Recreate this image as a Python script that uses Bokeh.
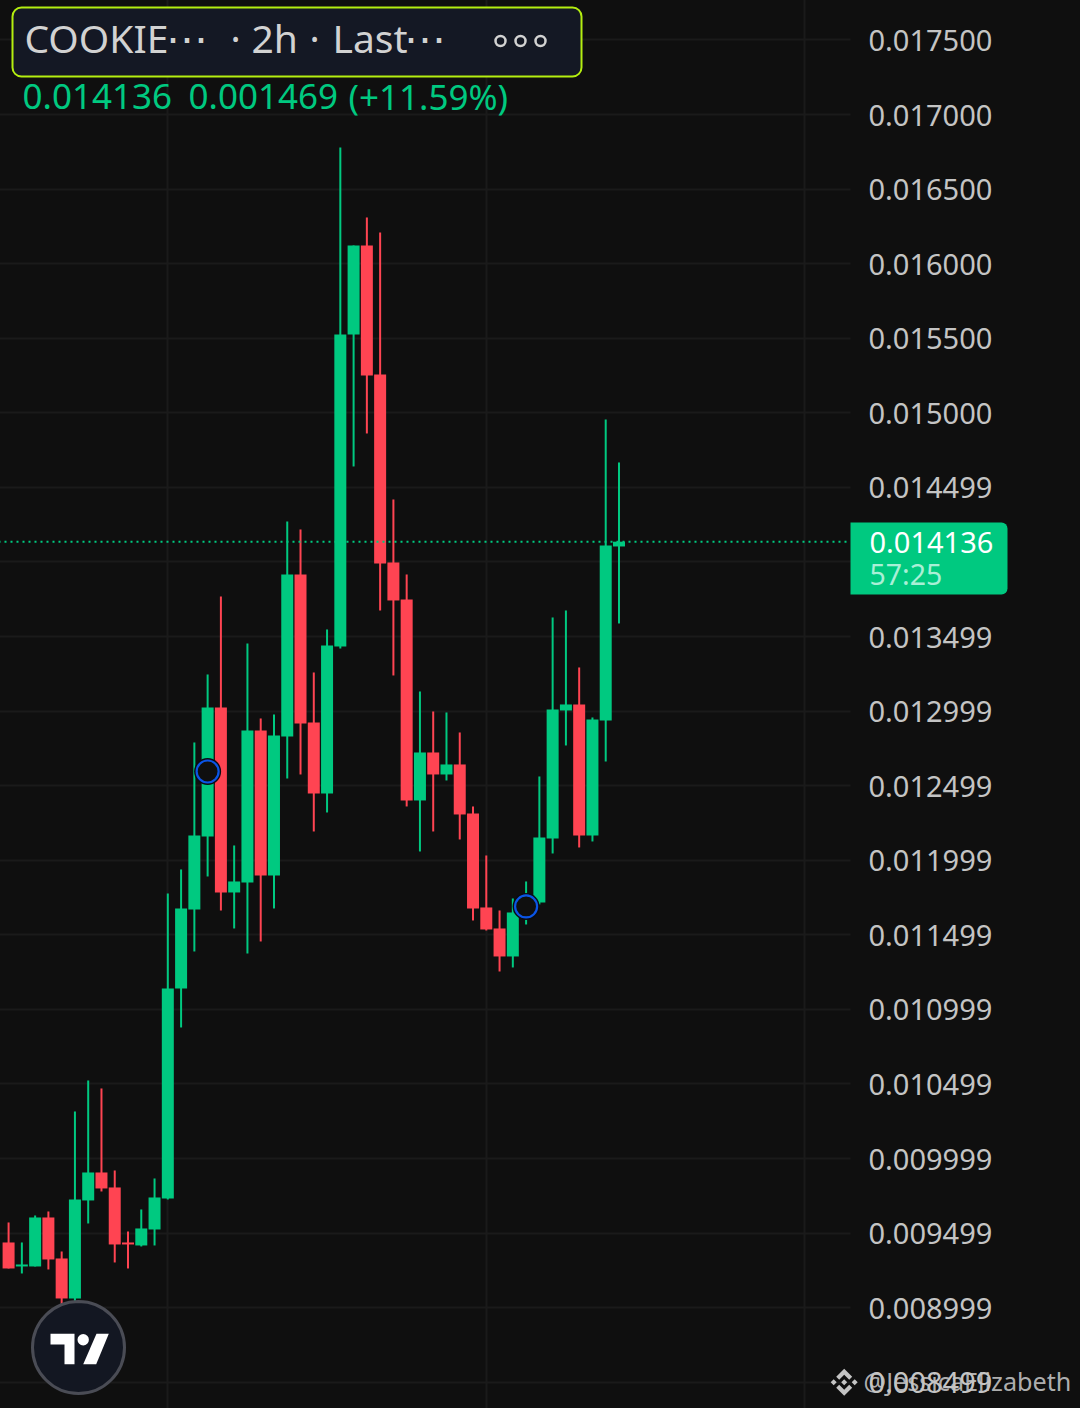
from bokeh.core.properties import value
from bokeh.embed import file_html
from bokeh.models import BoxAnnotation, FixedTicker, Label, PolyAnnotation, Range1d
from bokeh.plotting import figure
from bokeh.resources import INLINE

# ---- data (prices) ----
opens = [0.0094372, 0.0092763, 0.0092763, 0.0096048, 0.0093299, 0.0090617, 0.0097188, 0.0099065, 0.0098060, 0.0094372,
         0.0094171, 0.0095244, 0.0097322, 0.0111403, 0.0116700, 0.0121594, 0.0130244, 0.0117839, 0.0118510, 0.0128701,
         0.0118979, 0.0128299, 0.0139161, 0.0129238, 0.0124477, 0.0134334, 0.0155253, 0.0161221, 0.0152571, 0.0139966,
         0.0137485, 0.0124008, 0.0127226, 0.0125751, 0.0126422, 0.0123136, 0.0116834, 0.0115426, 0.0113548, 0.0116498,
         0.0117169, 0.0121460, 0.0130042, 0.0130445, 0.0121661, 0.0129372, 0.0141039]
closes = [0.0092629, 0.0092897, 0.0096048, 0.0093232, 0.0090617, 0.0097255, 0.0099065, 0.0097993, 0.0094238, 0.0094238,
          0.0095311, 0.0097389, 0.0111403, 0.0116767, 0.0121661, 0.0130244, 0.0117839, 0.0118577, 0.0128701, 0.0118979,
          0.0128366, 0.0139161, 0.0129171, 0.0124477, 0.0134401, 0.0155253, 0.0161221, 0.0152504, 0.0139899, 0.0137418,
          0.0124008, 0.0127226, 0.0125751, 0.0126422, 0.0123069, 0.0116767, 0.0115359, 0.0113548, 0.0116498, 0.0117169,
          0.0121527, 0.0130110, 0.0130445, 0.0121661, 0.0129439, 0.0141106, 0.0141360]
highs = [0.0095713, 0.0094372, 0.0096182, 0.0096450, 0.0093768, 0.0103155, 0.0105234, 0.0104698, 0.0099199, 0.0095109,
         0.0096585, 0.0098663, 0.0117772, 0.0119382, 0.0127897, 0.0132456, 0.0137686, 0.0120991, 0.0134535, 0.0129506,
         0.0129774, 0.0142715, 0.0142179, 0.0132590, 0.0135474, 0.0167792, 0.0161221, 0.0163098, 0.0162092, 0.0144190,
         0.0139161, 0.0131316, 0.0129975, 0.0129908, 0.0128567, 0.0123606, 0.0120320, 0.0116632, 0.0117437, 0.0118577,
         0.0125617, 0.0136278, 0.0136747, 0.0132926, 0.0129573, 0.0149554, 0.0146671]
lows = [0.0092629, 0.0092293, 0.0092763, 0.0092562, 0.0089812, 0.0090215, 0.0095646, 0.0097791, 0.0093031, 0.0092629,
        0.0094104, 0.0094171, 0.0097255, 0.0108788, 0.0113883, 0.0118912, 0.0116632, 0.0115426, 0.0113749, 0.0114554,
        0.0116767, 0.0125483, 0.0125751, 0.0121929, 0.0123203, 0.0134200, 0.0146403, 0.0148615, 0.0136747, 0.0132389,
        0.0123606, 0.0120588, 0.0121929, 0.0125349, 0.0121393, 0.0115962, 0.0115291, 0.0112542, 0.0112811, 0.0115694,
        0.0117035, 0.0120454, 0.0127696, 0.0120857, 0.0121259, 0.0126623, 0.0135876]

tick_values = [0.0175, 0.017, 0.0165, 0.016, 0.0155, 0.015, 0.0145, 0.0135, 0.013, 0.0125,
               0.012, 0.0115, 0.011, 0.0105, 0.01, 0.0095, 0.009, 0.0085]
tick_labels = ["0.017500", "0.017000", "0.016500", "0.016000", "0.015500", "0.015000", "0.014499", "0.013499",
               "0.012999", "0.012499", "0.011999", "0.011499", "0.010999", "0.010499", "0.009999", "0.009499",
               "0.008999", "0.008499"]
grid_values = tick_values + [0.014]
vgrid_values = [12, 36, 60]
marker_x = [15, 39]
marker_y = [0.0125952, 0.0116901]
last_price = 0.014136

GREEN = "#00c980"
RED = "#ff4452"
BG = "#0f0f0f"
GRID = "#1a1a1a"
FONT = "Noto Sans"
OFF = 2  # the canvas starts 2px above/left of the window corner
X_MIN, X_PANE_END, X_SCALE_LABEL, X_MAX = -0.76, 63.44, 64.80, 80.78

p = figure(width=1082, height=1410, output_backend="svg", toolbar_location=None,
           x_axis_location=None, y_axis_location=None,
           x_range=Range1d(X_MIN, X_MAX), y_range=Range1d(0.008324, 0.017778),
           min_border_left=0, min_border_top=0, min_border_bottom=0, min_border_right=0,
           background_fill_color=BG, border_fill_color=BG, outline_line_color=None)
p.styles = {"position": "absolute", "left": "-2px", "top": "-2px"}

p.ygrid.ticker = FixedTicker(ticks=grid_values)
p.xgrid.ticker = FixedTicker(ticks=vgrid_values)
p.ygrid.grid_line_color = GRID
p.xgrid.grid_line_color = GRID
p.ygrid.grid_line_width = 2
p.xgrid.grid_line_width = 2
p.ygrid.cross_bounds = (X_MIN, X_PANE_END)

# ---- price scale labels ----
p.text(x=[X_SCALE_LABEL] * len(tick_values), y=tick_values, text=tick_labels, text_baseline="middle", y_offset=0.5,
       text_font=value(FONT), text_font_size="29px", text_color="#c4c4c4")

# ---- candles ----
xs = list(range(len(opens)))
colors = [GREEN if c >= o else RED for o, c in zip(opens, closes)]
p.segment(xs, highs, xs, lows, line_color=colors, line_width=2)
p.vbar(x=xs, top=[max(o, c) for o, c in zip(opens, closes)], bottom=[min(o, c) for o, c in zip(opens, closes)],
       width=0.904, fill_color=colors, line_color=None)

p.segment([X_MIN], [last_price], [X_PANE_END], [last_price], line_color=GREEN, line_width=2, line_dash="2 4")

# ---- event markers ----
p.scatter(marker_x, marker_y, size=27, fill_color="#0a0c12", line_color=None)
p.scatter(marker_x, marker_y, size=22, fill_color=BG, line_color="#0b55e6", line_width=2.2)


def box(l, r, t, b, fill=None, line=None, lw=0, radius=0):
    p.add_layout(BoxAnnotation(left=l + OFF, right=r + OFF, top=t + OFF, bottom=b + OFF, left_units="canvas",
                               right_units="canvas", top_units="canvas", bottom_units="canvas", fill_color=fill,
                               fill_alpha=1 if fill else 0, line_color=line, line_width=lw,
                               line_alpha=1 if line else 0, border_radius=radius))


def text(x, y, s, size, color, alpha=1.0):
    p.add_layout(Label(x=x + OFF, y=y + OFF, x_units="canvas", y_units="canvas", text=s, text_font=FONT,
                       text_font_size=f"{size}px", text_color=color, text_alpha=alpha, text_baseline="middle"))


def poly(xs_, ys_, color):
    p.add_layout(PolyAnnotation(xs=[v + OFF for v in xs_], ys=[v + OFF for v in ys_], xs_units="canvas",
                                ys_units="canvas", fill_color=color, fill_alpha=1, line_color=None))


# ---- price tag ----
box(850, 1007, 522, 594, fill=GREEN, radius=(0, 6, 6, 0))
text(869, 542, "0.014136", 29, "#ffffff")
text(869, 573, "57:25", 28.5, "#a9efd6")

# ---- header ----
box(12, 581, 7, 76, fill="#141824", line="#b4ee10", lw=2, radius=9)
HEAD = "#d2d2d2"
text(24, 37, "COOKIE", 39, HEAD)
text(165, 36, "⋯", 42, HEAD)
text(230, 37, "·", 38, HEAD)
text(251, 37, "2h", 39, HEAD)
text(309, 37, "·", 38, HEAD)
text(332, 37, "Last", 39, HEAD)
text(403, 36, "⋯", 42, HEAD)
for cx in (500, 520, 540):
    box(cx - 5, cx + 5, 35.5, 45.5, line=HEAD, lw=2.5, radius=5)
text(22, 96, "0.014136", 35, GREEN)
text(188, 96, "0.001469", 35, GREEN)
text(348, 96, "(+11.59%)", 35, GREEN)

# ---- TradingView logo ----
box(32, 124, 1301, 1393, fill="#131722", line="#4a4c55", lw=3, radius=46)
poly([50, 74, 74, 64, 64, 50], [1333.3, 1333.3, 1363.7, 1363.7, 1344, 1344], "#ffffff")
poly([96, 108.3, 95.7, 82.7], [1333.3, 1333.3, 1363.7, 1363.7], "#ffffff")
box(77, 88.4, 1333.6, 1345, fill="#ffffff", radius=6)

# ---- watermark ----
WM = "#c4c4c4"
cx, cy = 843.7, 1381.7
poly([cx, cx + 8, cx + 5, cx, cx - 5, cx - 8], [cy - 13.5, cy - 5.5, cy - 2.5, cy - 7.5, cy - 2.5, cy - 5.5], WM)
poly([cx, cx + 8, cx + 5, cx, cx - 5, cx - 8], [cy + 13.5, cy + 5.5, cy + 2.5, cy + 7.5, cy + 2.5, cy + 5.5], WM)
for dx in (-10.5, 0, 10.5):
    poly([cx + dx, cx + dx + 3, cx + dx, cx + dx - 3], [cy - 3, cy, cy + 3, cy], WM)
text(863, 1380, "@JessicaElizabeth", 25.2, WM, 0.9)

open("out.html", "w").write(file_html(p, INLINE))
